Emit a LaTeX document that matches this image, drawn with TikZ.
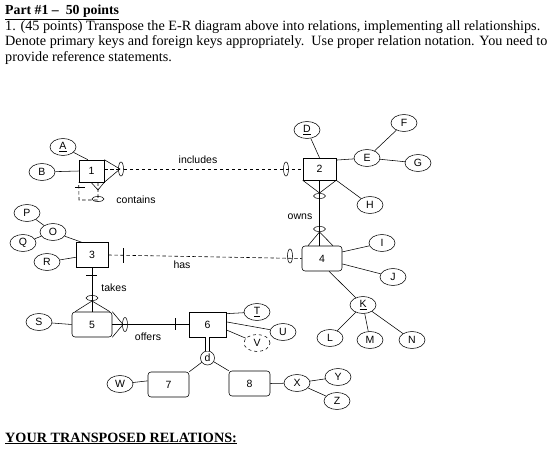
\documentclass[tikz,border=0pt]{standalone}
\usepackage{fontspec}
\setmainfont{Liberation Serif}
\setsansfont{Liberation Sans}
\usetikzlibrary{shapes.geometric}
\begin{document}
\begin{tikzpicture}[x=1pt,y=-1pt,
  dfont/.style={font=\sffamily\fontsize{10.5}{12}\selectfont},
  lbl/.style={dfont, inner sep=0},
  attr/.style={ellipse, draw, line width=0.55pt, minimum width=26pt, minimum height=17pt, inner sep=0, dfont},
  ent/.style={rectangle, draw, line width=0.55pt, inner sep=0, dfont},
  rent/.style={ent, rounded corners=3pt},
  ln/.style={line width=0.55pt},
  dln/.style={line width=0.6pt, dash pattern=on 3.5pt off 2.5pt},
  vring/.style={ellipse, draw, line width=0.55pt, minimum width=5pt, minimum height=14pt, inner sep=0},
  hring/.style={ellipse, draw, line width=0.55pt, minimum width=12pt, minimum height=5pt, inner sep=0},
  hdr/.style={anchor=base west, inner sep=0, font=\fontsize{14.2}{16}\selectfont},
]
\useasboundingbox (0,0) rectangle (554,449);

% header text
\node[hdr, font=\fontsize{13.8}{16}\selectfont\bfseries] (h0) at (5,15) {\underline{Part \#1 –\ \ 50 points}};
\node[hdr] (h1) at (5,30.5) {1. (45 points) Transpose the E-R diagram above into relations, implementing all relationships.};
\node[hdr] (h2) at (5,46) {Denote primary keys and foreign keys appropriately.\ \ Use proper relation notation. You need to};
\node[hdr] (h3) at (5,61.5) {provide reference statements.};
\node[hdr, font=\fontsize{14.2}{16}\selectfont\bfseries] (h4) at (5,442) {\underline{YOUR TRANSPOSED RELATIONS:}};

% entities
\node[ent, minimum width=25pt, minimum height=22pt] (e1) at (91.5,171) {1};
\node[ent, minimum width=33pt, minimum height=22pt] (e2) at (319.5,169) {2};
\node[ent, minimum width=32pt, minimum height=25pt] (e3) at (92,255) {3};
\node[rent, minimum width=40pt, minimum height=25pt] (e4) at (322,258.5) {4};
\node[rent, minimum width=40pt, minimum height=25pt] (e5) at (92,324.5) {5};
\node[ent, minimum width=37pt, minimum height=25pt] (e6) at (207.5,324.5) {6};
\node[rent, minimum width=41pt, minimum height=25pt] (e7) at (168.5,384.5) {7};
\node[rent, minimum width=41pt, minimum height=25pt] (e8) at (249.5,383.5) {8};

% attributes
\node[attr] (A) at (63,147) {\underline{A}};
\node[attr] (B) at (42,172) {B};
\node[attr] (D) at (307,130) {\underline{D}};
\node[attr] (E) at (367,158) {E};
\node[attr] (F) at (404,123) {F};
\node[attr] (G) at (418,163) {G};
\node[attr] (H) at (370,205) {H};
\node[attr] (I) at (382,243) {I};
\node[attr] (J) at (393,277) {J};
\node[attr] (K) at (363,305) {\underline{K}};
\node[attr] (L) at (330,338) {L};
\node[attr] (M) at (370,340) {M};
\node[attr] (N) at (412,340) {N};
\node[attr] (O) at (53,232) {O};
\node[attr] (P) at (27,213) {P};
\node[attr] (Q) at (23,243) {Q};
\node[attr] (R) at (47,262) {R};
\node[attr] (S) at (39,322) {S};
\node[attr] (T) at (257,312) {\underline{T}};
\node[attr] (U) at (283,332) {U};
\node[attr, dashed] (V) at (257,343) {V};
\node[attr] (W) at (120,384) {W};
\node[attr] (X) at (297,383) {X};
\node[attr] (Y) at (338,377) {Y};
\node[attr] (Z) at (337,401) {Z};
\node[circle, draw, line width=0.55pt, minimum size=14pt, inner sep=0, dfont] (d) at (207.5,358) {d};

% attribute links
\draw[ln] (A) -- (e1.108);
\draw[ln] (B) -- (e1.west);
\draw[ln] (D) -- (e2.north);
\draw[ln] (E) -- (e2.28);
\draw[ln] (H) -- (e2.south east);
\draw[ln] (E) -- (F);
\draw[ln] (E) -- (G);
\draw[ln] (I) -- (e4.18);
\draw[ln] (J) -- (e4.-15);
\draw[ln] (K) -- (e4.-61);
\draw[ln] (K) -- (L);
\draw[ln] (K) -- (M);
\draw[ln] (K) -- (N);
\draw[ln] (O) -- (e3.129);
\draw[ln] (P) -- (O);
\draw[ln] (Q) -- (O);
\draw[ln] (R) -- (e3.-172);
\draw[ln] (S) -- (e5.west);
\draw[ln] (T) -- (e6.30);
\draw[ln] (U) -- (e6.8);
\draw[ln] (V) -- (e6.-16);
\draw[ln] (W) -- (e7.170);
\draw[ln] (X) -- (e8.east);
\draw[ln] (X) -- (Y);
\draw[ln] (X) -- (Z);

% includes: 1 -- 2
\coordinate (c1r) at (120,169);
\draw[ln] (e1.north east) -- (c1r) -- (e1.south east);
\draw[dln] (e1.east |- c1r) -- (c1r);
\node[vring] (r1) at (121,169) {};
\draw[dln] (r1) -- (e2.west);
\node[vring] (r2) at (286,169) {};
\node[lbl] (lincl) at (198,160) {includes};

% contains: recursive on 1
\coordinate (c1b) at (98,190);
\draw[ln] (e1.south -| 91,0) -- (c1b) -- (e1.south east);
\draw[dln] (e1.south -| c1b) -- (98,200) -- (79,200) -- (e1.south west);
\node[hring] (r3) at (98,199) {};
\coordinate (t1a) at (75,187);
\coordinate (t1b) at (85,187);
\draw[ln] (t1a) -- (t1b);
\node[lbl] (lcont) at (136,200) {contains};

% owns: 2 -- 4
\coordinate (c2b) at (319.5,193);
\draw[ln] (e2.south west) -- (c2b) -- (e2.south east);
\coordinate (c4t) at (319.5,232);
\draw[ln] (e2.south) -- (e2.south |- e4.north);
\node[hring] (r4) at (319.5,196) {};
\node[hring] (r5) at (319.5,229) {};
\draw[ln] ([xshift=-14pt]e4.north) -- (c4t) -- ([xshift=11pt]e4.north);
\node[lbl] (lowns) at (300,217) {owns};

% has: 3 -- 4
\draw[dln] (e3.east) -- (e4.west);
\coordinate (t3a) at (123,248);
\coordinate (t3b) at (123,263);
\draw[ln] (t3a) -- (t3b);
\node[vring] (r6) at (290,256) {};
\node[lbl] (lhas) at (182,265) {has};

% takes: 3 -- 5
\draw[ln] (e3.south) -- (e5.north);
\coordinate (t5a) at (86,275);
\coordinate (t5b) at (97,275);
\draw[ln] (t5a) -- (t5b);
\node[hring] (r7) at (92,298) {};
\coordinate (c5t) at (92,301);
\draw[ln] ([xshift=-17pt]e5.north) -- (c5t) -- ([xshift=18pt]e5.north);
\node[lbl] (ltakes) at (114,288) {takes};

% offers: 5 -- 6
\coordinate (c5r) at (123,324.5);
\draw[ln] (e5.north east) -- (c5r) -- (e5.south east);
\draw[ln] (e5.east) -- (e6.west);
\node[vring] (r8) at (125,324.5) {};
\coordinate (t6a) at (175,318);
\coordinate (t6b) at (175,330);
\draw[ln] (t6a) -- (t6b);
\node[lbl] (loff) at (148,337) {offers};

% specialisation
\draw[line width=0.55pt, double, double distance=3.5pt] (e6.south) -- (d.north);
\draw[ln] (d) -- (e7.north east);
\draw[ln] (d) -- (e8.north west);
\end{tikzpicture}
\end{document}
